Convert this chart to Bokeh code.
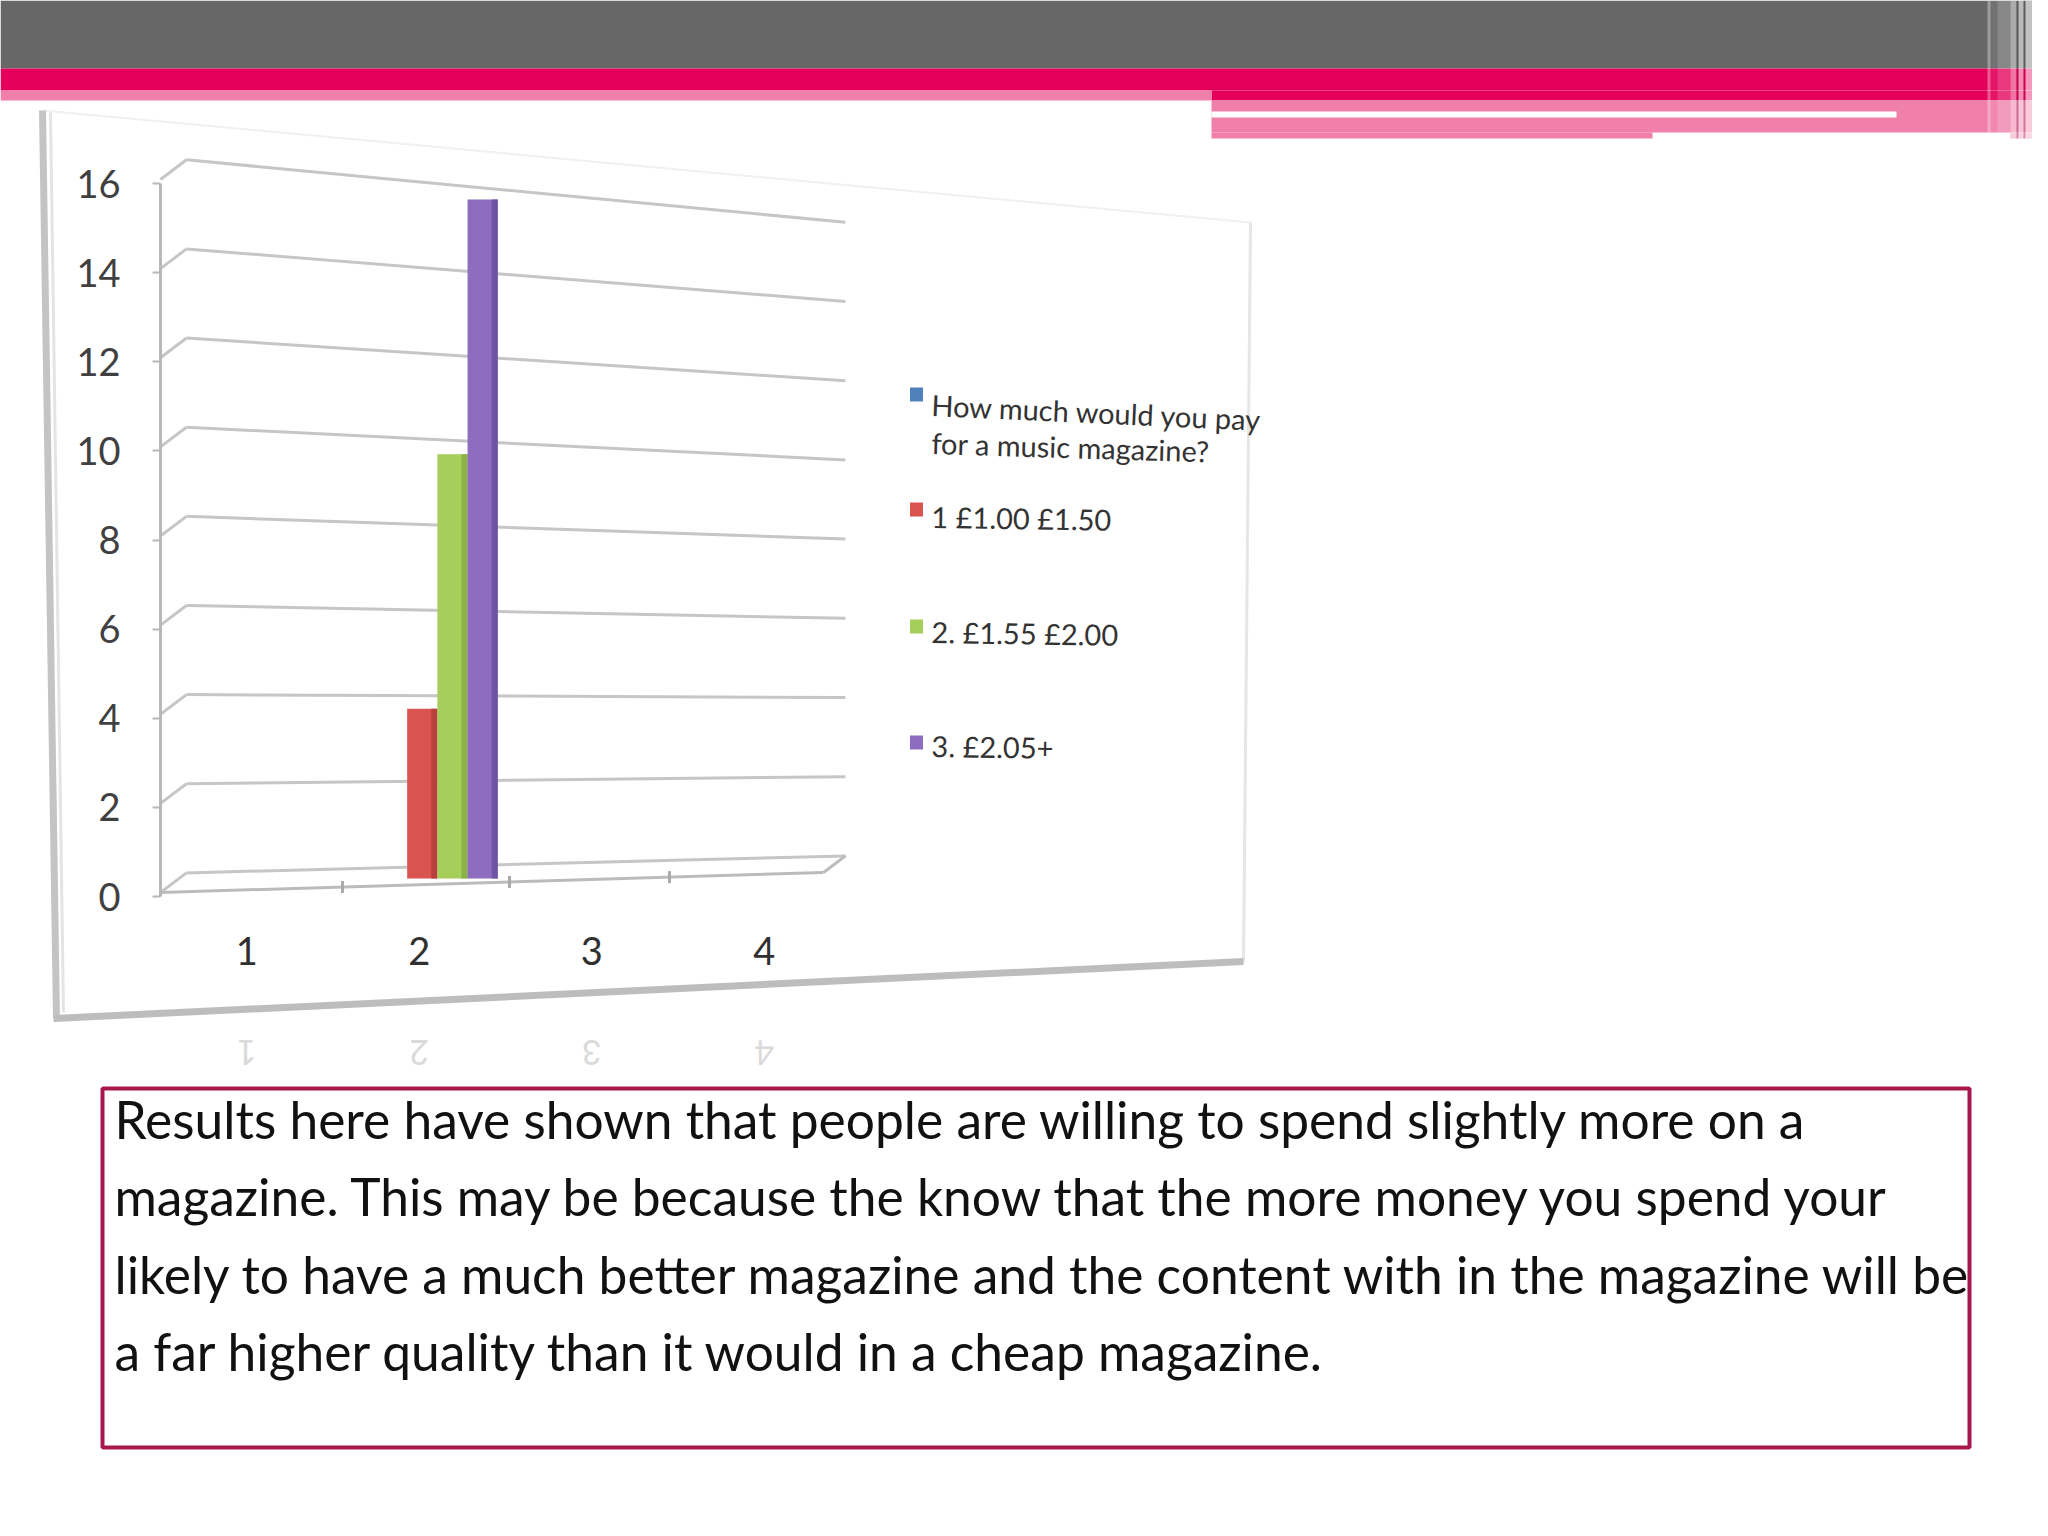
import math
from bokeh.plotting import figure
from bokeh.models import Range1d, LinearAxis, FixedTicker, ColumnDataSource
from bokeh.transform import dodge
from bokeh.core.properties import value
from bokeh.embed import file_html
from bokeh.resources import INLINE

# ---------------- data ----------------
categories = ["1", "2", "3", "4"]
series_names = ["How much would you pay", "1 £1.00 £1.50", "2. £1.55 £2.00", "3. £2.05+"]
legend_second_line = "for a music magazine?"
series_blue = [0, 0, 0, 0]
series_red = [0, 4, 0, 0]
series_green = [0, 10, 0, 0]
series_purple = [0, 16, 0, 0]
y_ticks = [0, 2, 4, 6, 8, 10, 12, 14, 16]
body_lines = [
    "Results here have shown that people are willing to spend slightly more on a",
    "magazine. This may be because the know that the more money you spend your",
    "likely to have a much better magazine and the content with in the magazine will be",
    "a far higher quality than it would in a cheap magazine.",
]

# ---------------- layout / style ----------------
W, H, M = 2032, 1520, 0
AX_PX = 160.0          # page x of the value axis (category 0.5)
CAT_PX = 172.5         # page px per category
Y0_PX = 878.0          # page y of value 0 for bars
YU_PX = 679.0 / 16     # page px per value unit for bars
LAB0_PX = 896.0        # page y of "0" tick label
LABU_PX = 44.5625      # page px per unit for tick labels
FONT = "Lato"

colors = ["#4F81BD", "#D9534F", "#A6CE5A", "#8E6CC0"]
side_colors = ["#3E6AA0", "#B9403C", "#8AB246", "#7054A4"]


def xd(px):
    return 0.5 + (px - AX_PX) / CAT_PX


def yd(py):
    return (Y0_PX - py) / YU_PX


p = figure(
    width=W, height=H, output_backend="svg", toolbar_location=None,
    x_range=Range1d(xd(M), xd(M + W)), y_range=Range1d(yd(M + H), yd(M)),
    x_axis_location=None, y_axis_location=None, min_border=0,
    background_fill_color="white", border_fill_color="white",
)
p.outline_line_color = None
p.grid.visible = False
p.extra_x_ranges = {"px": Range1d(M, M + W)}
p.extra_y_ranges = {"py": Range1d(M + H, M),
                    "ax": Range1d((LAB0_PX - (M + H)) / LABU_PX, (LAB0_PX - M) / LABU_PX)}
PX = dict(x_range_name="px", y_range_name="py")

# ---------------- slide header ----------------
hdr = [
    (0, 2048, 0, 68, "#676767"),
    (0, 2048, 68, 90, "#E4005A"),
    (1211, 2048, 90, 100, "#E4005A"),
    (0, 1211, 90, 100, "#F07FA9"),
    (1211, 2048, 100, 132, "#F07FA9"),
    (1211, 1652, 132, 138, "#F07FA9"),
    (2010, 2048, 132, 138, "#F3A0BE"),
    (1211, 1896, 111, 117, "#FFFFFF"),
]
p.quad(left=[h[0] for h in hdr], right=[h[1] for h in hdr], top=[h[2] for h in hdr],
       bottom=[h[3] for h in hdr], fill_color=[h[4] for h in hdr], line_color=None, **PX)
stripes = [
    (1987, 1990, "#FFFFFF", 0.35), (1990, 1997, "#FFFFFF", 0.08), (1997, 2010, "#FFFFFF", 0.22),
    (2010, 2016, "#FFFFFF", 0.45), (2016, 2018, "#000000", 0.15), (2018, 2023, "#FFFFFF", 0.55),
    (2023, 2025, "#000000", 0.10), (2025, 2032, "#FFFFFF", 0.60), (2032, 2034, "#000000", 0.12),
    (2034, 2048, "#FFFFFF", 0.65),
]
p.quad(left=[s[0] for s in stripes], right=[s[1] for s in stripes], top=[0] * len(stripes),
       bottom=[132 if s[0] < 2010 else 138 for s in stripes], fill_color=[s[2] for s in stripes],
       fill_alpha=[s[3] for s in stripes], line_color=None, **PX)

# ---------------- chart panel (tilted frame) ----------------
p.segment(x0=[42], y0=[110], x1=[1250], y1=[222], line_color="#F0F0F0", line_width=2, **PX)
p.segment(x0=[1250], y0=[222], x1=[1243], y1=[961], line_color="#E6E6E6", line_width=3, **PX)
p.segment(x0=[42], y0=[110], x1=[56], y1=[1018], line_color="#C4C4C4", line_width=7, **PX)
p.segment(x0=[50], y0=[112], x1=[63], y1=[1012], line_color="#E4E4E4", line_width=3, **PX)
p.segment(x0=[53], y0=[1018], x1=[1243], y1=[961], line_color="#BDBDBD", line_width=7, **PX)

# ---------------- perspective walls / gridlines ----------------
GL_X0, GL_X1 = 186.0, 845.0


def yl(v):
    return 872.4 - 44.57 * v


def yr(v):
    return 855.4 - 39.6 * v


def yt(v):
    return LAB0_PX - 4 - LABU_PX * v


p.segment(x0=[GL_X0] * len(y_ticks), y0=[yl(v) for v in y_ticks],
          x1=[GL_X1] * len(y_ticks), y1=[yr(v) for v in y_ticks],
          line_color="#C6C6C6", line_width=3, **PX)
p.segment(x0=[AX_PX] * len(y_ticks), y0=[yt(v) for v in y_ticks],
          x1=[GL_X0] * len(y_ticks), y1=[yl(v) for v in y_ticks],
          line_color="#C6C6C6", line_width=3, **PX)
# floor
p.segment(x0=[AX_PX, 823], y0=[yt(0), yt(0) - 20], x1=[823, GL_X1], y1=[yt(0) - 20, yr(0)],
          line_color="#BBBBBB", line_width=3, **PX)
floor_ticks = [342, 509, 669]
p.segment(x0=floor_ticks, y0=[yt(0) - 20 * (t - AX_PX) / (823 - AX_PX) - 6 for t in floor_ticks],
          x1=floor_ticks, y1=[yt(0) - 20 * (t - AX_PX) / (823 - AX_PX) + 6 for t in floor_ticks],
          line_color="#AAAAAA", line_width=3, **PX)

# ---------------- bars ----------------
src = ColumnDataSource(dict(x=[i + 1 for i in range(len(categories))], cat=categories,
                            s0=series_blue, s1=series_red, s2=series_green, s3=series_purple))
BW = 0.175
SHIFT = 0.105
SIDE = 0.035
for i, key in enumerate(["s0", "s1", "s2", "s3"]):
    off = SHIFT + (i - 1.5) * BW
    p.vbar(x=dodge("x", off), top=key, bottom=0, width=BW, source=src,
           fill_color=colors[i], line_color=None)
    p.vbar(x=dodge("x", off + BW / 2 - SIDE / 2), top=key, bottom=0, width=SIDE, source=src,
           fill_color=side_colors[i], line_color=None)

# ---------------- axes ----------------
yax = LinearAxis(y_range_name="ax", ticker=FixedTicker(ticks=y_ticks), bounds=(0, 16),
                 fixed_location=xd(AX_PX))
yax.axis_line_color = "#B8B8B8"
yax.axis_line_width = 3
yax.major_tick_out = 8
yax.major_tick_in = 0
yax.major_tick_line_color = "#B8B8B8"
yax.major_tick_line_width = 2
yax.minor_tick_line_color = None
yax.major_label_text_font = FONT
yax.major_label_text_font_size = "38px"
yax.major_label_text_color = "#404040"
yax.major_label_standoff = 32
p.add_layout(yax, "left")

xax = LinearAxis(ticker=FixedTicker(ticks=[i + 1 for i in range(len(categories))]),
                 major_label_overrides={i + 1: c for i, c in enumerate(categories)},
                 fixed_location=yd(922))
xax.axis_line_color = None
xax.major_tick_line_color = None
xax.major_tick_out = 0
xax.major_tick_in = 0
xax.minor_tick_line_color = None
xax.major_label_text_font = FONT
xax.major_label_text_font_size = "38px"
xax.major_label_text_color = "#303030"
xax.major_label_standoff = 14
p.add_layout(xax, "below")

# faint reflection of category labels
p.text(x=[i + 1 for i in range(len(categories))], y=[yd(1052)] * len(categories), text=categories,
       angle=math.pi, text_font=value(FONT), text_font_size="34px", text_color="#DADADA",
       text_align="center", text_baseline="middle")

# ---------------- legend ----------------
LG_SQ_X = 916
LG_TX_X = 931
lg_sq_y = [394, 509, 626, 742]
lg_tx_y = [404, 516, 631, 745]
p.rect(x=[LG_SQ_X] * 4, y=lg_sq_y, width=13, height=14, fill_color=colors, line_color=None, **PX)
p.text(x=[LG_TX_X], y=[lg_tx_y[0]], text=[series_names[0]], angle=-0.045,
       text_font=value(FONT), text_font_size="29px", text_color="#333333",
       text_baseline="middle", **PX)
p.text(x=[LG_TX_X], y=[lg_tx_y[0] + 38], text=[legend_second_line], angle=-0.03,
       text_font=value(FONT), text_font_size="29px", text_color="#333333",
       text_baseline="middle", **PX)
p.text(x=[LG_TX_X] * 3, y=lg_tx_y[1:], text=series_names[1:], angle=-0.015,
       text_font=value(FONT), text_font_size="29px", text_color="#333333",
       text_baseline="middle", **PX)

# ---------------- text box ----------------
p.quad(left=[102], right=[1969], top=[1088], bottom=[1447], fill_color=None,
       line_color="#A8174C", line_width=4, **PX)
BODY_X = 114
BODY_BASE = 1118
BODY_STEP = 77.5
p.text(x=[BODY_X] * len(body_lines), y=[BODY_BASE + BODY_STEP * i for i in range(len(body_lines))],
       text=body_lines, text_font=value(FONT), text_font_size="51.5px", text_color="#111111",
       text_baseline="alphabetic", **PX)

open("out.html", "w").write(file_html(p, INLINE))
